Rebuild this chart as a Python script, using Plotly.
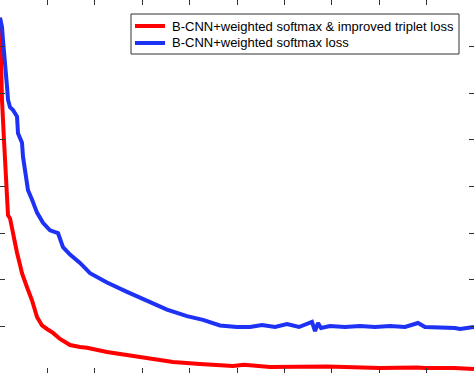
import plotly.graph_objects as go

# iterations (x) and loss (y)
blue_x = [0, 42, 63, 105, 148, 169, 211, 274, 359, 380, 464, 485, 527, 591, 675, 781, 907,
          1055, 1224, 1329, 1477, 1688, 1899, 2257, 2679, 3101, 3523, 3945, 4283, 4641, 5000,
          5274, 5527, 5802, 6055, 6308, 6582, 6646, 6709, 6772, 6962, 7278, 7595, 7911, 8228,
          8544, 8819, 8966, 9283, 9599, 9705, 10000]
blue_y = [3.81, 3.71, 3.57, 3.36, 3.07, 2.93, 2.85, 2.82, 2.75, 2.57, 2.47, 2.32, 2.15, 1.96,
          1.86, 1.72, 1.61, 1.53, 1.50, 1.35, 1.27, 1.18, 1.07, 0.97, 0.87, 0.78, 0.68, 0.61,
          0.57, 0.51, 0.493, 0.493, 0.515, 0.493, 0.525, 0.493, 0.547, 0.450, 0.536, 0.483,
          0.504, 0.493, 0.504, 0.493, 0.504, 0.493, 0.536, 0.493, 0.493, 0.483, 0.472, 0.493]

red_x = [0, 21, 42, 84, 105, 127, 148, 169, 211, 274, 316, 359, 422, 464, 570, 675, 781, 886,
         992, 1118, 1266, 1477, 1688, 1835, 2257, 2679, 3101, 3650, 4219, 4916, 5148, 5696,
         6899, 7679, 8017, 8798, 8966, 9578, 10000]
red_y = [3.81, 3.36, 2.93, 2.50, 2.28, 1.99, 1.80, 1.69, 1.66, 1.50, 1.37, 1.29, 1.16, 1.07,
         0.92, 0.78, 0.60, 0.51, 0.472, 0.43, 0.365, 0.30, 0.279, 0.27, 0.225, 0.19, 0.16,
         0.118, 0.097, 0.075, 0.088, 0.064, 0.070, 0.054, 0.054, 0.060, 0.054, 0.054, 0.043]

names = ["B-CNN+weighted softmax & improved triplet loss", "B-CNN+weighted softmax loss"]
colors = ["rgb(255,0,0)", "rgb(30,50,245)"]

W, H = 474, 373

fig = go.Figure()
fig.add_trace(go.Scatter(x=red_x, y=red_y, mode="lines", name=names[0],
                         line=dict(color=colors[0], width=4), showlegend=False))
fig.add_trace(go.Scatter(x=blue_x, y=blue_y, mode="lines", name=names[1],
                         line=dict(color=colors[1], width=4), showlegend=False))

axis_common = dict(showgrid=False, zeroline=False, showline=False, showticklabels=False,
                   ticks="inside", ticklen=5, tickwidth=1, tickcolor="#333",
                   mirror="ticks")
fig.update_xaxes(range=[0, 10000], dtick=1000, tick0=0, **axis_common)
fig.update_yaxes(range=[0, 4], dtick=0.5, tick0=0, **axis_common)

# legend box drawn in paper coordinates
def px(x):
    return x / W

def py(y):
    return 1 - y / H

fig.add_shape(type="rect", xref="paper", yref="paper",
              x0=px(131), x1=px(459), y0=py(54), y1=py(14),
              line=dict(color="#333", width=1), fillcolor="white")
for i, (name, col) in enumerate(zip(names, colors)):
    yc = 26 + 17 * i
    fig.add_shape(type="line", xref="paper", yref="paper",
                  x0=px(135), x1=px(165), y0=py(yc), y1=py(yc),
                  line=dict(color=col, width=4))
    fig.add_annotation(text=name, xref="paper", yref="paper", x=px(170), y=py(yc),
                       xanchor="left", yanchor="middle", showarrow=False,
                       font=dict(size=13, color="black"))

fig.update_layout(
    width=W, height=H,
    margin=dict(l=0, r=0, t=0, b=0),
    plot_bgcolor="white", paper_bgcolor="white",
    font=dict(family="Liberation Sans, Arial, sans-serif", size=13, color="black"),
    showlegend=False,
)

fig.write_html("out.html", config={"displayModeBar": False},
               post_script="document.body.style.margin='0';")
